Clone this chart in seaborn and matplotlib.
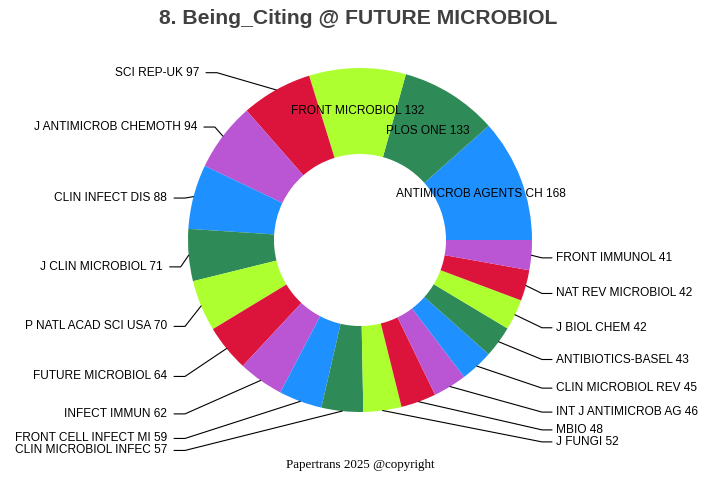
import matplotlib

matplotlib.use("Agg")
import matplotlib.pyplot as plt
import numpy as np
import seaborn as sns

# dane
journals = [
    "ANTIMICROB AGENTS CH", "PLOS ONE", "FRONT MICROBIOL", "SCI REP-UK",
    "J ANTIMICROB CHEMOTH", "CLIN INFECT DIS", "J CLIN MICROBIOL",
    "P NATL ACAD SCI USA", "FUTURE MICROBIOL", "INFECT IMMUN",
    "FRONT CELL INFECT MI", "CLIN MICROBIOL INFEC", "J FUNGI", "MBIO",
    "INT J ANTIMICROB AG", "CLIN MICROBIOL REV", "ANTIBIOTICS-BASEL",
    "J BIOL CHEM", "NAT REV MICROBIOL", "FRONT IMMUNOL",
]
counts = [168, 133, 132, 97, 94, 88, 71, 70, 64, 62, 59, 57, 52, 48, 46, 45, 43, 42, 42, 41]
title = "8. Being_Citing @ FUTURE MICROBIOL"
footer = "Papertrans 2025 @copyright"

kolory = ["dodgerblue", "seagreen", "greenyellow", "crimson", "mediumorchid"]

sns.set_theme(style="white")
plt.rcParams["font.family"] = ["Liberation Sans", "DejaVu Sans"]

fig = plt.figure(figsize=(7.2, 4.8), dpi=100)
ax = fig.add_axes([0, 0, 1, 1])

cx, cy = 360, 240
R = 172
ring = 86
paleta = sns.color_palette(kolory)
ax.pie(
    counts,
    radius=R,
    center=(cx, cy),
    startangle=0,
    counterclock=True,
    colors=[paleta[i % 5] for i in range(len(counts))],
    wedgeprops=dict(width=ring, linewidth=0),
    frame=False,
)
ax.set_xlim(0, 720)
ax.set_ylim(0, 480)
ax.set_aspect("equal")
ax.axis("off")

vals = np.array(counts, dtype=float)
cum = np.cumsum(vals) - vals / 2
theta = np.deg2rad(cum / vals.sum() * 360)

# etykiety wewnatrz dla duzych wycinkow
r_in = R - ring / 2
outside = []
for i, (name, v) in enumerate(zip(journals, counts)):
    if v >= 100:
        ax.text(cx + r_in * np.cos(theta[i]), cy + r_in * np.sin(theta[i]),
                f"{name} {v}", ha="center", va="center", fontsize=8.6, color="black")
    else:
        outside.append(i)

# etykiety na zewnatrz
r_lab = 202
for side in (1, -1):
    idx = [i for i in outside if np.sign(np.cos(theta[i])) == side]
    ys = {i: cy + r_lab * np.sin(theta[i]) - (9 if side < 0 else 0) for i in idx}
    order = sorted(idx, key=lambda i: -ys[i])
    prev = None
    for i in order:
        if prev is not None and ys[i] > ys[prev] - 12:
            ys[i] = ys[prev] - 12
        prev = i
    for i in idx:
        xo = cx + R * np.cos(theta[i])
        yo = cy + R * np.sin(theta[i])
        yl = ys[i]
        if side > 0:
            xe = cx + 182
            xend = xe + 10
            ax.plot([xo, xe, xend], [yo, yl, yl], color="black", lw=0.8)
            ax.text(xend + 4, yl, f"{journals[i]} {counts[i]}", ha="left",
                    va="center", fontsize=8.6, color="black")
        else:
            lim = cx - 143 if np.sin(theta[i]) > 0.5 else cx - 175
            xe = min(xo - 8, lim)
            xend = xe - 11
            ax.plot([xo, xe, xend], [yo, yl, yl], color="black", lw=0.8)
            ax.text(xend - 7, yl, f"{journals[i]} {counts[i]}", ha="right",
                    va="center", fontsize=8.6, color="black")

fig.text(0.497, 0.961, title, ha="center", va="center", fontsize=15.2,
         fontweight="bold", color="#404040")
fig.text(0.5, 0.031, footer, ha="center", va="center", fontsize=9.4,
         family=["Liberation Serif", "DejaVu Serif"], color="black")

fig.savefig("out.png", dpi=100)
